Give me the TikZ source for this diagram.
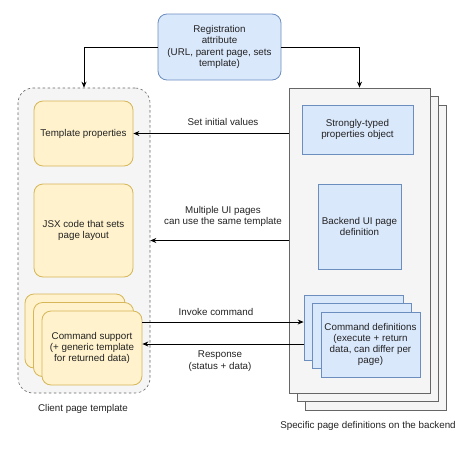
\documentclass[tikz,border=0pt]{standalone}
\usepackage{fontspec}
\setmainfont{Liberation Sans}
\usepackage{xcolor}
\usepackage{tikz}
\usetikzlibrary{arrows.meta, positioning}

\definecolor{yfill}{HTML}{FFF2CC}
\definecolor{ydraw}{HTML}{D6B656}
\definecolor{bfill}{HTML}{DAE8FC}
\definecolor{bdraw}{HTML}{6C8EBF}
\definecolor{gfill}{HTML}{F5F5F5}
\definecolor{gdraw}{HTML}{666666}
\definecolor{txt}{HTML}{222222}

\begin{document}
\begin{tikzpicture}[
    x=1pt, y=-1pt,
    every node/.style={font=\fontsize{9.8}{11.3}\selectfont, text=txt},
    regbox/.style={rectangle, draw=bdraw, fill=bfill, line width=0.8pt, rounded corners=9pt, minimum width=123pt, minimum height=66pt, align=center, inner sep=2pt},
    yellowbox/.style={rectangle, draw=ydraw, fill=yfill, line width=0.8pt, rounded corners=9pt, align=center, inner sep=2pt},
    bluebox/.style={rectangle, draw=bdraw, fill=bfill, line width=0.8pt, align=center, inner sep=2pt},
    pagebox/.style={rectangle, draw=gdraw, fill=gfill, line width=0.8pt, minimum width=141pt, minimum height=305pt},
    groupbox/.style={rectangle, draw=gdraw, fill=gfill, line width=0.6pt, dash pattern=on 2.5pt off 2.5pt, rounded corners=15pt, minimum width=132pt, minimum height=305pt},
    flow/.style={draw=black, line width=0.8pt, -{Stealth[length=6pt, width=5pt]}},
    lbl/.style={align=center, inner sep=1pt}
]
    \useasboundingbox (0,0) rectangle (474,450);

    % Registration attribute
    \node[regbox] (REG) at (219.5,47) {Registration\\attribute\\(URL, parent page, sets\\template)};

    % Client page template group
    \node[groupbox] (CLIENT) at (84,240.5) {};
    \node[yellowbox, minimum width=99pt, minimum height=65pt] (TPROPS) at (83.5,133.5) {Template properties};
    \node[yellowbox, minimum width=99pt, minimum height=93pt] (JSX) at (83.5,230.5) {JSX code that sets\\page layout};
    \node[yellowbox, minimum width=100pt, minimum height=74pt] (CS1) at (75,331) {};
    \node[yellowbox, minimum width=100pt, minimum height=74pt] (CS2) at (83.5,339.5) {};
    \node[yellowbox, minimum width=100pt, minimum height=74pt] (CS3) at (92,348) {Command support\\(+ generic template\\for returned data)};
    \node[lbl] (CLIENTLBL) at (83,409) {Client page template};

    % Backend page definitions (stacked)
    \node[pagebox] (PG3) at (376,257.5) {};
    \node[pagebox] (PG2) at (367.75,249) {};
    \node[pagebox] (PG1) at (359.5,240.5) {};
    \node[bluebox, minimum width=111pt, minimum height=49pt] (PROPOBJ) at (357.5,129.5) {Strongly-typed\\properties object};
    \node[bluebox, minimum width=83pt, minimum height=85pt] (UIDEF) at (359.5,226.5) {Backend UI page\\definition};
    \node[bluebox, minimum width=99pt, minimum height=65pt] (CD1) at (353.5,327.5) {};
    \node[bluebox, minimum width=99pt, minimum height=65pt] (CD2) at (362,336) {};
    \node[bluebox, minimum width=99pt, minimum height=65pt] (CD3) at (370.5,344.5) {Command definitions\\(execute + return\\data, can differ per\\page)};
    \node[lbl] (BACKLBL) at (368,426) {Specific page definitions on the backend};

    % Registration arrows
    \draw[flow] (REG.west) -| (CLIENT.north);
    \draw[flow] (REG.east) -| (PG1.north);

    % Data flow between client and backend
    \draw[flow] (PG1.west |- TPROPS.east) -- (TPROPS.east);
    \node[lbl] (SETLBL) at (223,122) {Set initial values};

    \draw[flow] (PG1.west) -- (CLIENT.east);
    \node[lbl] (MULTLBL) at (223,216.5) {Multiple UI pages\\can use the same template};

    \draw[flow] ([yshift=26pt]CS3.east) -- ([yshift=26pt]CS3.east -| CD1.west);
    \node[lbl] (INVLBL) at (216,312) {Invoke command};

    \draw[flow] ([yshift=4pt]CS3.east -| CD1.west) -- ([yshift=4pt]CS3.east);
    \node[lbl] (RESPLBL) at (220,361) {Response\\(status + data)};
\end{tikzpicture}
\end{document}
